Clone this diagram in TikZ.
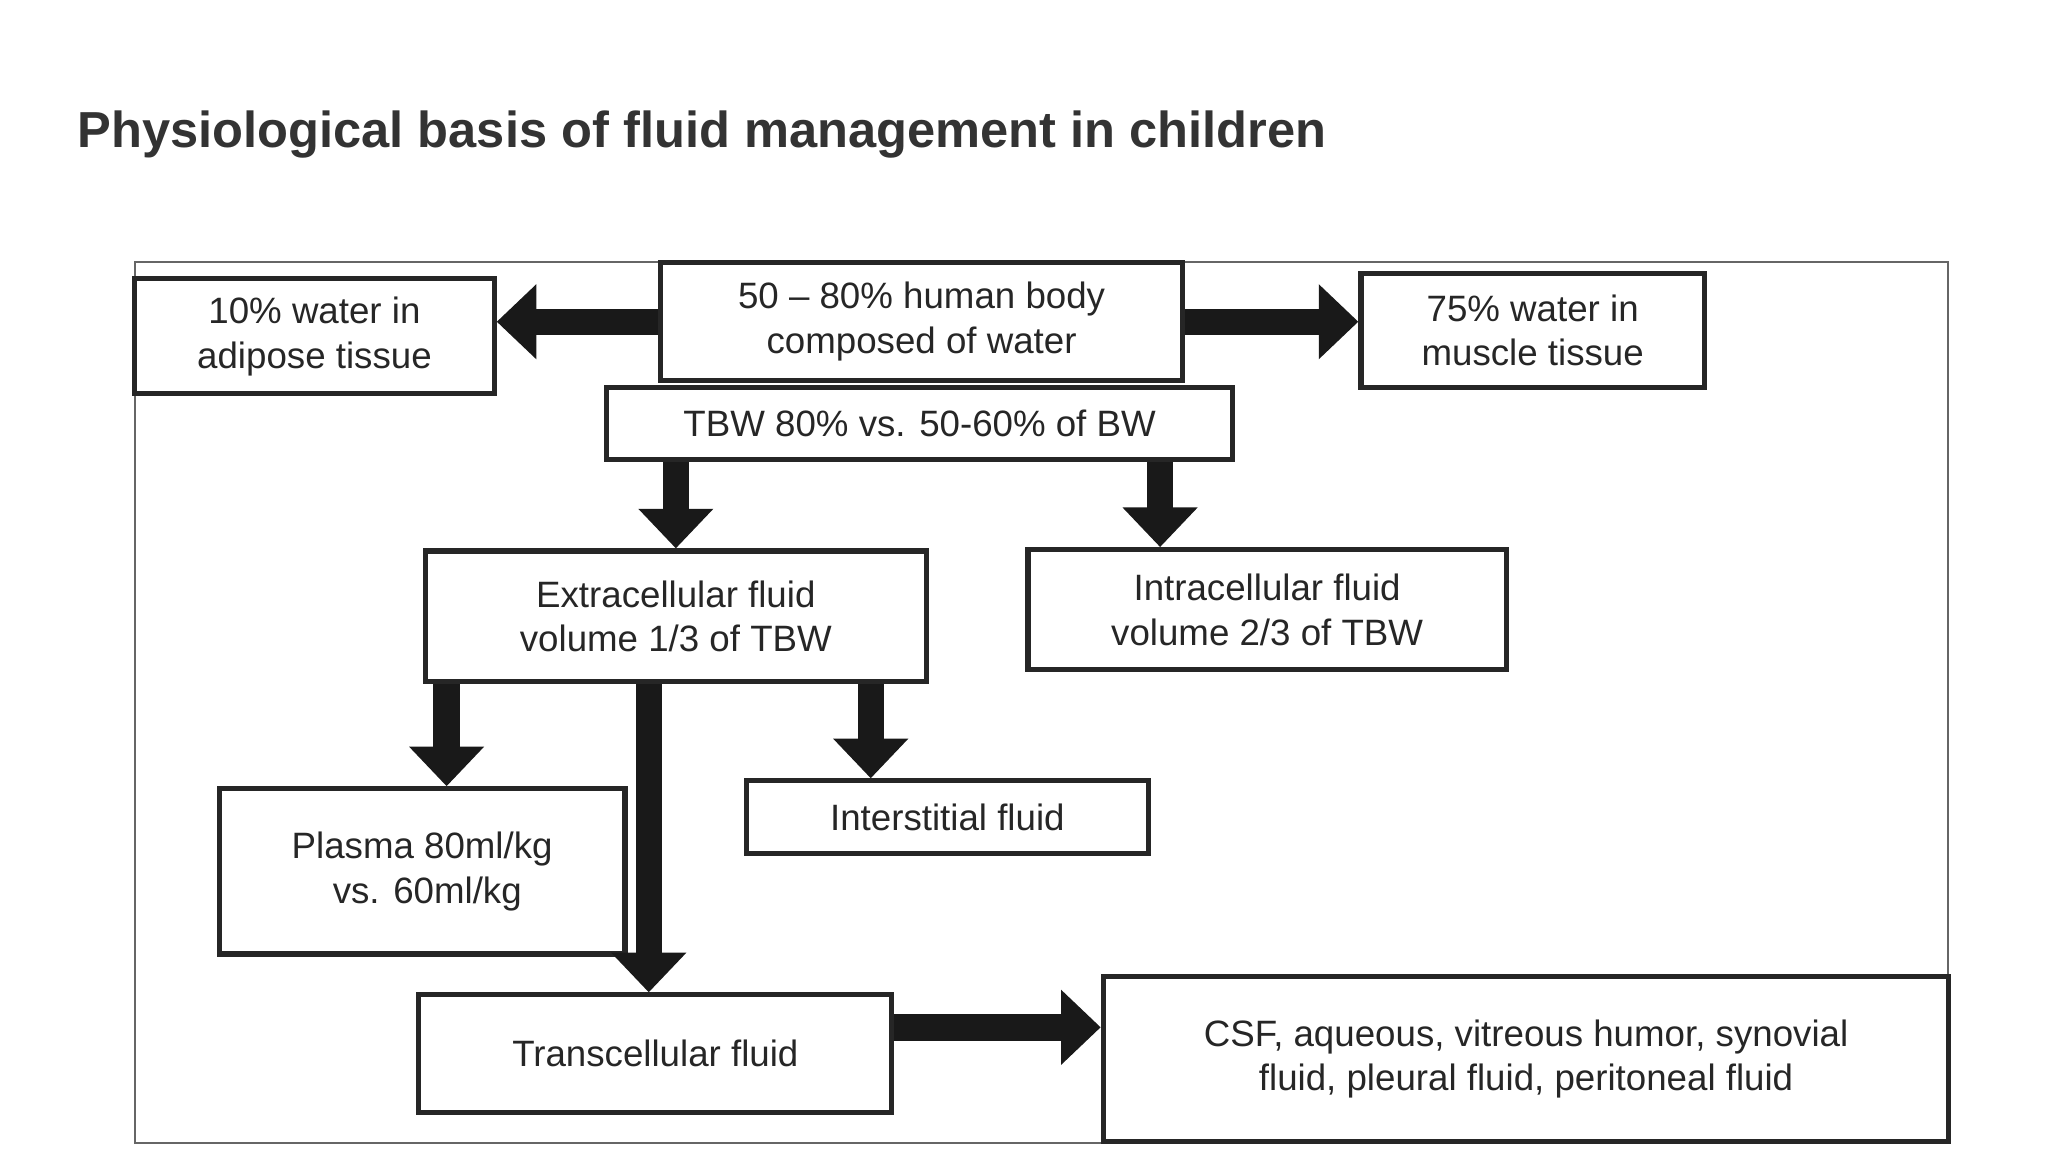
\documentclass[tikz,border=0pt]{standalone}
\usepackage{fontspec}
\setmainfont{Liberation Sans}
\usetikzlibrary{arrows.meta}
\tikzset{
	box/.style={draw=black!85, line width=1.1pt, align=center, inner sep=0pt, font=\fontsize{7.9}{9.6}\selectfont, text=black!85},
	flow/.style={draw=black!90, line width=0.2cm, -{Triangle[width=0.55cm,length=0.3cm]}}
}
\begin{document}
\begin{tikzpicture}
	\useasboundingbox (0,0) rectangle (15.5,-8.72);
	% Titel
	\node [anchor=west, inner sep=0pt, font=\bfseries\fontsize{10.9}{13}\selectfont, text=black!80] (title) at (0.58,-1.02) {Physiological basis of fluid management in children};
	% Rahmen
	\draw [black!60, line width=0.4pt] (1.02,-1.98) rectangle (14.74,-8.65);
	% Kästen
	\node [box, minimum width=2.72cm, minimum height=0.87cm] (adipose) at (2.38,-2.545) {10\% water in\\adipose tissue};
	\node [box, minimum width=3.95cm, minimum height=0.89cm] (body) at (6.975,-2.435) {50 -- 80\% human body\\composed of water};
	\node [box, minimum width=2.6cm, minimum height=0.86cm] (muscle) at (11.6,-2.5) {75\% water in\\muscle tissue};
	\node [box, minimum width=4.74cm, minimum height=0.55cm] (tbw) at (6.96,-3.205) {TBW 80\% vs. 50-60\% of BW};
	\node [box, minimum width=3.79cm, minimum height=0.99cm] (ecf) at (5.115,-4.665) {Extracellular fluid\\volume 1/3 of TBW};
	\node [box, minimum width=3.62cm, minimum height=0.91cm] (icf) at (9.59,-4.615) {Intracellular fluid\\volume 2/3 of TBW};
	\node [box, minimum width=3.07cm, minimum height=1.25cm] (plasma) at (3.195,-6.595) {Plasma 80ml/kg\\\ vs. 60ml/kg};
	\node [box, minimum width=3.04cm, minimum height=0.55cm] (inter) at (7.17,-6.185) {Interstitial fluid};
	\node [box, minimum width=3.58cm, minimum height=0.89cm] (trans) at (4.96,-7.975) {Transcellular fluid};
	\node [box, minimum width=6.4cm, minimum height=1.25cm] (csf) at (11.55,-8.015) {CSF, aqueous, vitreous humor, synovial\\fluid, pleural fluid, peritoneal fluid};
	% Pfeile
	\draw [flow] (body.west) -- (body.west -| adipose.east);
	\draw [flow] (body.east) -- (body.east -| muscle.west);
	\draw [flow] (tbw.south -| ecf.north) -- (ecf.north);
	\draw [flow] ([xshift=-0.81cm]icf.north |- tbw.south) -- ([xshift=-0.81cm]icf.north);
	\draw [flow] ([xshift=0.185cm]plasma.north |- ecf.south) -- ([xshift=0.185cm]plasma.north);
	\draw [flow] ([xshift=-0.05cm]trans.north |- ecf.south) -- ([xshift=-0.05cm]trans.north);
	\draw [flow] ([xshift=-0.58cm]inter.north |- ecf.south) -- ([xshift=-0.58cm]inter.north);
	\draw [flow] ([yshift=0.2cm]trans.east) -- ([yshift=0.2cm]trans.east -| csf.west);
\end{tikzpicture}
\end{document}
